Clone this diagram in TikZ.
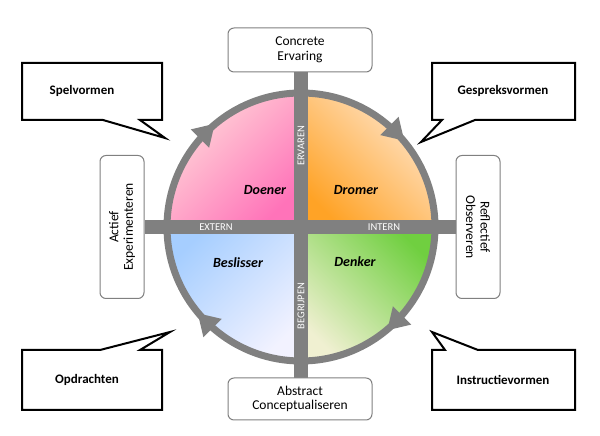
\documentclass[tikz,border=0pt]{standalone}
\usepackage{fontspec}
\setmainfont{Carlito}
\usetikzlibrary{calc}
\definecolor{ring}{HTML}{808080}
\tikzset{
 lbox/.style={draw=ring,line width=1pt,rounded corners=6pt,fill=white,align=center,font=\fontsize{13.5}{14.5}\selectfont},
 call/.style={draw=black,line width=2pt,fill=white,line join=miter},
 ctext/.style={font=\bfseries\fontsize{13}{15}\selectfont},
 qtext/.style={font=\bfseries\itshape\fontsize{14}{15}\selectfont},
 btext/.style={text=white,font=\fontsize{10.5}{11}\selectfont},
 rtri/.style={fill=ring}
}
\begin{document}
\begin{tikzpicture}[x=1pt,y=1pt]
\useasboundingbox (0,0) rectangle (600,436);
\coordinate (c) at (301,209);
% quadrants
\begin{scope}
\clip (c) circle (131);
\shade[top color=red!15!white,bottom color=magenta!50!red!55!white,shading angle=45] (c) rectangle ++(-135,135);
\shade[top color=orange!20!white,bottom color=orange!85!yellow!85!white,shading angle=-45] (c) rectangle ++(135,135);
\shade[top color=cyan!45!blue!35!white,bottom color=blue!5!white,shading angle=45] (c) rectangle ++(-135,-135);
\shade[top color=green!50!olive!75!white,bottom color=olive!12!white,shading angle=-45] (c) rectangle ++(135,-135);
\end{scope}
% ring
\draw[ring,line width=7pt] (c) circle (134);
\foreach \a in {135,45,-45,-135}
  \fill[rtri,shift={($(c)+(\a:134)$)},rotate=\a-90] (12,0) -- (-9,13) -- (-9,-13) -- cycle;
% bars
\fill[ring] (294,58) rectangle (308,366);
\fill[ring] (145,202) rectangle (457,216);
\node[btext,rotate=90] (erv) at (301,290) {ERVAREN};
\node[btext,rotate=90] (beg) at (301,130) {BEGRIJPEN};
\node[btext] (ext) at (216,209) {EXTERN};
\node[btext] (int) at (384,209) {INTERN};
% boxes
\node[lbox,minimum width=144,minimum height=44] (top) at (300,386) {Concrete\\Ervaring};
\node[lbox,minimum width=144,minimum height=42] (bot) at (300,37) {Abstract\\Conceptualiseren};
\node[lbox,minimum width=143,minimum height=44,rotate=90] (lft) at (122,209) {Actief\\Experimenteren};
\node[lbox,minimum width=143,minimum height=44,rotate=-90] (rgt) at (478,209) {Reflectief\\Observeren};
% quadrant names
\node[qtext] (q1) at (265,246) {Doener};
\node[qtext] (q2) at (356,246) {Dromer};
\node[qtext] (q3) at (238,173) {Beslisser};
\node[qtext] (q4) at (355,174) {Denker};
% callouts
\draw[call] (22,316) -- (22,373) -- (162,373) -- (162,316) -- (140,316) -- (165,298) -- (103,316) -- cycle;
\node[ctext] (sp) at (82,345) {Spelvormen};
\draw[call] (432,316) -- (432,373) -- (575,373) -- (575,316) -- (475,316) -- (421,294) -- (442,316) -- cycle;
\node[ctext] (ge) at (503,345) {Gespreksvormen};
\draw[call] (22,86) -- (22,26) -- (162,26) -- (162,86) -- (140,86) -- (170,104) -- (100,86) -- cycle;
\node[ctext] (op) at (87,56) {Opdrachten};
\draw[call] (432,86) -- (432,26) -- (575,26) -- (575,86) -- (478,86) -- (432,104) -- (445,86) -- cycle;
\node[ctext] (in) at (503,56) {Instructievormen};
\end{tikzpicture}
\end{document}
